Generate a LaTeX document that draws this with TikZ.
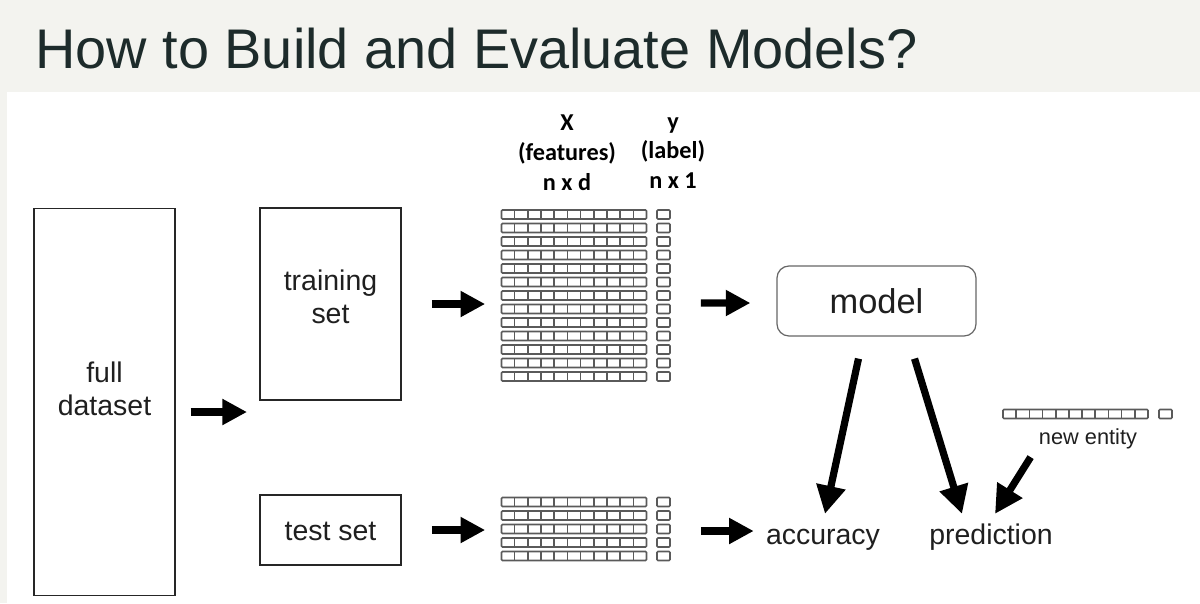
\documentclass[tikz,border=0pt]{standalone}
\usepackage{fontspec}
\setmainfont{Liberation Sans}
\newfontfamily\hdrfont{Carlito}
\usetikzlibrary{arrows.meta,positioning,calc}
\definecolor{bandgray}{HTML}{F3F3EF}
\definecolor{titleink}{HTML}{1D2B2B}
\definecolor{cellgray}{HTML}{5A5A5A}
\tikzset{
  setbox/.style={draw=black!85, line width=0.85pt, inner sep=0pt},
  lbl/.style={font=\fontsize{16.2}{19}\selectfont, text=black!88,
              align=center, inner sep=0pt},
  word/.style={lbl, text height=0.75em, text depth=0.25em},
  hdr/.style={font=\hdrfont\bfseries\fontsize{13.8}{17}\selectfont,
              align=center, inner sep=0pt},
  cell/.style={draw=cellgray, line width=0.9pt, rounded corners=0.6pt},
  fatarrow/.style={-{Triangle[length=14pt,width=14pt]}, line width=4pt},
  droparrow/.style={-{Triangle[length=16pt,width=16pt]}, line width=4.1pt},
}
% one row of the feature matrix + its label cell
\newcommand{\featrow}[4][11]{%
  \draw[cell] (#2,#3-4.5) rectangle ++(#1*13.18,9);
  \foreach \c in {1,...,10} {\draw[cell] (#2+\c*13.18,#3-4.5) -- ++(0,9);}
  \draw[cell] (#4,#3-4.5) rectangle ++(13,9);}

\begin{document}
\begin{tikzpicture}[x=0.02cm, y=-0.02cm]
  \useasboundingbox (0,0) rectangle (1200,603);
  \fill[bandgray] (0,0) rectangle (1200,92);
  \fill[bandgray] (0,0) rectangle (7,603);
  \node[anchor=base west, inner sep=0pt, text=titleink,
        font=\fontsize{31.8}{36}\selectfont] (title) at (35,68)
       {How to Build and Evaluate Models?};

  % data sets
  \node[setbox, minimum width=141*0.02cm, minimum height=387*0.02cm] (full) at (104.5,402) {};
  \node[lbl] (fulltxt) at (104.5,389) {full\\dataset};
  \node[setbox, minimum width=141*0.02cm, minimum height=192*0.02cm] (train) at (330.5,304) {};
  \node[lbl] (traintxt) at (330.5,297) {training\\set};
  \node[setbox, minimum width=141*0.02cm, minimum height=70*0.02cm] (test) at (330.5,530) {};
  \node[word] (testtxt) at (330.5,536) {test set};

  % matrices
  \node[inner sep=0pt, minimum width=171*0.02cm, minimum height=170*0.02cm] (Xtr) at (586,295.5) {};
  \node[inner sep=0pt, minimum width=171*0.02cm, minimum height=62*0.02cm] (Xte) at (586,529) {};
  \foreach \r in {0,...,12} {\featrow{501.5}{214.5+13.5*\r}{657}}
  \foreach \r in {0,...,4} {\featrow{501.5}{502+13.5*\r}{657}}
  \node[hdr] (xhdr) at (567,153) {X\\(features)\\n x d};
  \node[hdr] (yhdr) at (673,153) {y\\(label)\\n x 1};

  % model and outputs
  \node[draw=black!60, line width=0.7pt, rounded corners=12*0.02cm,
        minimum width=199*0.02cm, minimum height=70*0.02cm,
        font=\fontsize{19.6}{23}\selectfont, text=black!88] (model) at (876.5,301) {model};
  \node[word] (acc) at (823,540) {accuracy};
  \node[word] (pred) at (991,540) {prediction};
  \node[inner sep=0pt, minimum width=170*0.02cm, minimum height=8*0.02cm] (newrow) at (1087,414) {};
  \featrow{1003}{414}{1159}
  \node[word, font=\fontsize{12.4}{15}\selectfont] (newtxt) at (1088,440) {new entity};

  % arrows
  \coordinate (split) at (247,412);
  \draw[fatarrow] (full.east |- split) ++(15,0) -- (split);
  \draw[fatarrow, shorten <=30*0.02cm, shorten >=15*0.02cm] (train.east) -- (train.east -| Xtr.west);
  \draw[fatarrow, shorten <=30*0.02cm, shorten >=15*0.02cm] (test.east) -- (test.east -| Xte.west);
  \draw[fatarrow] ($(Xtr.east)+(29,7.5)$) -- ($(model.west)+(-26,2)$);
  \draw[fatarrow] ($(Xte.east)+(29,2)$) -- ($(acc.west)+(-12,-9)$);
  \draw[droparrow] ($(model.south west)!0.41!(model.south east)+(0,22)$) -- ($(acc.north)+(2,-17)$);
  \draw[droparrow] ($(model.south west)!0.69!(model.south east)+(0,22)$) -- ($(pred.north)+(-29,-17)$);
  \draw[droparrow] ($(newtxt.south west)+(-8,8)$) -- ($(pred.north)+(4,-17)$);
\end{tikzpicture}
\end{document}
